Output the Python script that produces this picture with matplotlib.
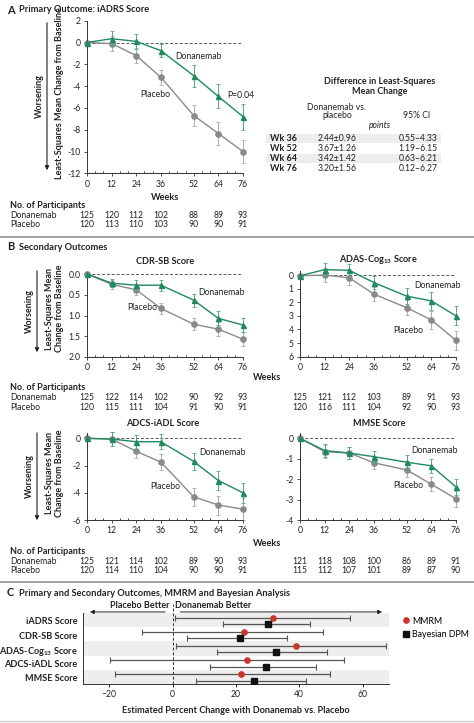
import matplotlib
matplotlib.use("Agg")
import matplotlib.pyplot as plt
from matplotlib.lines import Line2D
from matplotlib.transforms import blended_transform_factory
from matplotlib.ticker import MultipleLocator, FormatStrFormatter

plt.rcParams['font.family'] = ['Lato', 'DejaVu Sans']
plt.rcParams['mathtext.fontset'] = 'custom'
plt.rcParams['mathtext.rm'] = 'Lato'
plt.rcParams['mathtext.bf'] = 'Lato:bold'
plt.rcParams['mathtext.default'] = 'regular'

# ---- data ----
weeks = [0, 12, 24, 36, 52, 64, 76]

iadrs_don = [0, 0.35, 0.1, -0.75, -3.05, -4.95, -6.8]
iadrs_don_err = [0, 0.7, 0.7, 0.6, 1.0, 1.1, 1.2]
iadrs_pla = [0, -0.1, -1.2, -3.2, -6.7, -8.35, -10.0]
iadrs_pla_err = [0, 0.7, 0.7, 0.7, 1.0, 1.05, 1.1]

cdr_don = [0, 0.22, 0.27, 0.27, 0.63, 1.07, 1.23]
cdr_don_err = [0, 0.1, 0.12, 0.13, 0.16, 0.17, 0.16]
cdr_pla = [0, 0.25, 0.38, 0.83, 1.21, 1.33, 1.57]
cdr_pla_err = [0, 0.1, 0.12, 0.14, 0.15, 0.17, 0.17]

adas_don = [0.05, -0.4, -0.35, 0.55, 1.55, 1.9, 3.0]
adas_don_err = [0, 0.5, 0.5, 0.5, 0.6, 0.65, 0.7]
adas_pla = [0.05, 0.0, 0.2, 1.4, 2.4, 3.3, 4.8]
adas_pla_err = [0, 0.5, 0.5, 0.5, 0.55, 0.65, 0.7]

adcs_don = [0, -0.05, -0.25, -0.25, -1.7, -3.1, -4.0]
adcs_don_err = [0, 0.5, 0.5, 0.55, 0.65, 0.7, 0.75]
adcs_pla = [0, -0.05, -0.95, -1.75, -4.3, -4.9, -5.2]
adcs_pla_err = [0, 0.5, 0.5, 0.6, 0.65, 0.7, 0.8]

mmse_don = [0, -0.6, -0.72, -0.9, -1.17, -1.35, -2.38]
mmse_don_err = [0, 0.3, 0.3, 0.3, 0.35, 0.35, 0.4]
mmse_pla = [0, -0.65, -0.72, -1.2, -1.55, -2.25, -2.96]
mmse_pla_err = [0, 0.3, 0.3, 0.3, 0.35, 0.35, 0.4]

n_iadrs_don = [125, 120, 112, 102, 88, 89, 93]
n_iadrs_pla = [120, 113, 110, 103, 90, 90, 91]
n_cdr_don = [125, 122, 114, 102, 90, 92, 93]
n_cdr_pla = [120, 115, 111, 104, 91, 90, 91]
n_adas_don = [125, 121, 112, 103, 89, 91, 93]
n_adas_pla = [120, 116, 111, 104, 92, 90, 93]
n_adcs_don = [125, 121, 114, 102, 89, 90, 93]
n_adcs_pla = [120, 114, 110, 104, 90, 90, 91]
n_mmse_don = [121, 118, 108, 100, 86, 89, 91]
n_mmse_pla = [115, 112, 107, 101, 89, 87, 90]

tbl_weeks = ["Wk 36", "Wk 52", "Wk 64", "Wk 76"]
tbl_diff = ["2.44\u00b10.96", "3.67\u00b11.26", "3.42\u00b11.42", "3.20\u00b11.56"]
tbl_ci = ["0.55\u20134.33", "1.19\u20136.15", "0.63\u20136.21", "0.12\u20136.27"]

outcomes = ["iADRS Score", "CDR-SB Score", "ADAS-Cog$_{13}$ Score", "ADCS-iADL Score", "MMSE Score"]
mmrm_est = [31.8, 22.6, 38.9, 23.6, 21.5]
mmrm_lo = [0.7, -9.7, 1.0, -19.8, -18.2]
mmrm_hi = [56.0, 47.6, 67.4, 54.2, 49.7]
bayes_est = [30.2, 21.3, 32.5, 29.5, 25.8]
bayes_lo = [16.0, 4.6, 14.1, 11.8, 7.4]
bayes_hi = [43.4, 36.2, 48.6, 45.3, 42.1]

# ---- style ----
W, H = 474, 723
GREEN = "#1f8a5b"
GREEN_ERR = "#52a880"
GRAY = "#8a8a8a"
GRAY_ERR = "#ababab"
RED = "#c9372c"
TXT = "#222222"
FS = 6.2

fig = plt.figure(figsize=(W / 100, H / 100), dpi=100)
ov = fig.add_axes([0, 0, 1, 1])
ov.set_xlim(0, W)
ov.set_ylim(H, 0)
ov.axis('off')


def px_axes(l, t, r, b):
    return fig.add_axes([l / W, 1 - b / H, (r - l) / W, (b - t) / H])


def series(ax, y, err, color, ecolor, marker, ms, z):
    ax.errorbar(weeks[1:], y[1:], yerr=err[1:], fmt='none', ecolor=ecolor, elinewidth=0.7,
                capsize=1.3, capthick=0.6, zorder=z, clip_on=False)
    ax.plot(weeks, y, color=color, lw=1.0, marker=marker, ms=ms, zorder=z + 0.5, clip_on=False)


def line_panel(ax, don, don_err, pla, pla_err, ylim, step, fmt):
    ax.axhline(0, color="#555555", lw=0.7, ls=(0, (3, 2)), zorder=1)
    series(ax, pla, pla_err, GRAY, GRAY_ERR, 'o', 3.8, 2)
    series(ax, don, don_err, GREEN, GREEN_ERR, '^', 3.6, 3)
    ax.set_xlim(0, 76)
    ax.set_ylim(*ylim)
    ax.set_xticks(weeks)
    ax.xaxis.set_minor_locator(MultipleLocator(4))
    ax.yaxis.set_major_locator(MultipleLocator(step))
    ax.yaxis.set_major_formatter(FormatStrFormatter(fmt))
    for s in ['top', 'right']:
        ax.spines[s].set_visible(False)
    for s in ['left', 'bottom']:
        ax.spines[s].set_linewidth(0.7)
        ax.spines[s].set_color("#333333")
    ax.tick_params(labelsize=FS, length=2.5, width=0.6, pad=2, colors="#333333", labelcolor=TXT)
    ax.tick_params(which='minor', length=1.8, width=0.5, direction='in')
    ax.set_facecolor('none')


def worsening(x_arrow, x_text, y0, y1, label_x, label):
    ov.annotate('', xy=(x_arrow, y1), xytext=(x_arrow, y0),
                arrowprops=dict(arrowstyle='-|>', color=TXT, lw=0.8, mutation_scale=6))
    ov.text(x_text, (y0 + y1) / 2, "Worsening", rotation=90, ha='center', va='center',
            fontsize=FS + 0.3, fontweight='bold', color=TXT)
    ov.text(label_x, (y0 + y1) / 2 - 3, label, rotation=90, ha='center', va='center',
            fontsize=FS + 0.3, fontweight='bold', color=TXT, linespacing=1.1)


def counts(ax, ypx, don, pla):
    tr = blended_transform_factory(ax.transData, ov.transData)
    for w, d, p in zip(weeks, don, pla):
        ax.text(w, ypx, str(d), transform=tr, ha='center', va='center', fontsize=FS, color=TXT)
        ax.text(w, ypx + 9.5, str(p), transform=tr, ha='center', va='center', fontsize=FS, color=TXT)


def section_title(y, letter, text):
    ov.text(7, y, letter, fontsize=8, fontweight='bold', va='center', color=TXT)
    ov.text(19, y, text, fontsize=FS + 0.5, fontweight='bold', va='center', color=TXT)


# ---- panel A ----
section_title(10, "A", "Primary Outcome: iADRS Score")
axA = px_axes(87, 20.7, 243, 173.3)
line_panel(axA, iadrs_don, iadrs_don_err, iadrs_pla, iadrs_pla_err, (-12, 2), 2, '%d')
axA.text(43, -1.3, "Donanemab", fontsize=FS, color=TXT, va='center')
axA.text(26, -4.8, "Placebo", fontsize=FS, color=TXT, va='center')
axA.text(68.3, -4.85, "P=0.04", fontsize=FS, color=TXT, va='center')
worsening(47, 39, 20, 173, 60, "Least-Squares Mean Change from Baseline")
ov.text(165, 197, "Weeks", ha='center', va='center', fontsize=FS + 0.4, fontweight='bold', color=TXT)
ov.text(10, 205, "No. of Participants", va='center', fontsize=FS + 0.3, fontweight='bold', color=TXT)
ov.text(10, 215, "Donanemab", va='center', fontsize=FS, color=TXT)
ov.text(10, 224.5, "Placebo", va='center', fontsize=FS, color=TXT)
counts(axA, 215, n_iadrs_don, n_iadrs_pla)

# difference table
ov.text(380, 82, "Difference in Least-Squares", ha='center', va='center', fontsize=FS + 0.3,
        fontweight='bold', color=TXT)
ov.text(380, 92, "Mean Change", ha='center', va='center', fontsize=FS + 0.3, fontweight='bold', color=TXT)
ov.text(337, 107, "Donanemab vs.", ha='center', va='center', fontsize=FS, color=TXT)
ov.text(337, 116, "placebo", ha='center', va='center', fontsize=FS, color=TXT)
ov.text(417, 116, "95% CI", ha='center', va='center', fontsize=FS, color=TXT)
ov.text(380, 125, "points", ha='center', va='center', fontsize=FS, style='italic', color=TXT)
for i, (wk, d, c) in enumerate(zip(tbl_weeks, tbl_diff, tbl_ci)):
    y = 138.3 + 10 * i
    if i % 2 == 0:
        ov.add_patch(plt.Rectangle((266, y - 4.6), 175, 9.3, color="#ededed", lw=0, zorder=0))
    ov.text(270, y, wk, va='center', fontsize=FS + 0.3, fontweight='bold', color=TXT)
    ov.text(337, y, d, ha='center', va='center', fontsize=FS, color=TXT)
    ov.text(418, y, c, ha='center', va='center', fontsize=FS, color=TXT)

ov.plot([0, W], [237, 237], color="#9a9a9a", lw=1.3)

# ---- panel B ----
section_title(247, "B", "Secondary Outcomes")
B_LABEL = "Least-Squares Mean\nChange from Baseline"

axB1 = px_axes(87, 274, 243, 357)
line_panel(axB1, cdr_don, cdr_don_err, cdr_pla, cdr_pla_err, (2.0, 0.0), 0.5, '%.1f')
axB1.text(54.2, 0.45, "Donanemab", fontsize=FS, color=TXT, va='center')
axB1.text(19.6, 0.81, "Placebo", fontsize=FS, color=TXT, va='center')
ov.text(165, 262, "CDR-SB Score", ha='center', va='center', fontsize=FS + 0.4, fontweight='bold', color=TXT)

axB2 = px_axes(300, 271, 456, 356.7)
line_panel(axB2, adas_don, adas_don_err, adas_pla, adas_pla_err, (6, -0.3), 1, '%d')
axB2.set_yticks([0, 1, 2, 3, 4, 5, 6])
axB2.text(55.7, 0.73, "Donanemab", fontsize=FS, color=TXT, va='center')
axB2.text(45.6, 4.1, "Placebo", fontsize=FS, color=TXT, va='center')
ov.text(378, 260, r"ADAS-Cog$_\mathbf{13}$ Score", ha='center', va='center', fontsize=FS + 0.4,
        fontweight='bold', color=TXT)

worsening(37, 29, 268, 355, 54.5, B_LABEL)
ov.text(267, 378, "Weeks", ha='center', va='center', fontsize=FS + 0.4, fontweight='bold', color=TXT)
ov.text(10, 387, "No. of Participants", va='center', fontsize=FS + 0.3, fontweight='bold', color=TXT)
ov.text(10, 398, "Donanemab", va='center', fontsize=FS, color=TXT)
ov.text(10, 407.5, "Placebo", va='center', fontsize=FS, color=TXT)
counts(axB1, 398, n_cdr_don, n_cdr_pla)
counts(axB2, 398, n_adas_don, n_adas_pla)

axB3 = px_axes(87, 432.9, 243, 520)
line_panel(axB3, adcs_don, adcs_don_err, adcs_pla, adcs_pla_err, (-6, 0.4), 2, '%d')
axB3.set_yticks([0, -2, -4, -6])
axB3.text(54.7, -1.06, "Donanemab", fontsize=FS, color=TXT, va='center')
axB3.text(30.7, -3.55, "Placebo", fontsize=FS, color=TXT, va='center')
ov.text(163, 424, "ADCS-iADL Score", ha='center', va='center', fontsize=FS + 0.4, fontweight='bold', color=TXT)

axB4 = px_axes(300, 433.2, 456, 520)
line_panel(axB4, mmse_don, mmse_don_err, mmse_pla, mmse_pla_err, (-4, 0.25), 1, '%d')
axB4.set_yticks([0, -1, -2, -3, -4])
axB4.text(54.1, -0.62, "Donanemab", fontsize=FS, color=TXT, va='center')
axB4.text(45.6, -2.33, "Placebo", fontsize=FS, color=TXT, va='center')
ov.text(379, 424, "MMSE Score", ha='center', va='center', fontsize=FS + 0.4, fontweight='bold', color=TXT)

worsening(37, 29, 430, 523, 54.5, B_LABEL)
ov.text(267, 543, "Weeks", ha='center', va='center', fontsize=FS + 0.4, fontweight='bold', color=TXT)
ov.text(10, 551, "No. of Participants", va='center', fontsize=FS + 0.3, fontweight='bold', color=TXT)
ov.text(10, 561, "Donanemab", va='center', fontsize=FS, color=TXT)
ov.text(10, 570.5, "Placebo", va='center', fontsize=FS, color=TXT)
counts(axB3, 561, n_adcs_don, n_adcs_pla)
counts(axB4, 561, n_mmse_don, n_mmse_pla)

ov.plot([0, W], [582, 582], color="#9a9a9a", lw=1.3)

# ---- panel C ----
section_title(593, "C", "Primary and Secondary Outcomes, MMRM and Bayesian Analysis")
axC = px_axes(83, 613, 389, 684)
n = len(outcomes)
for i in range(0, n, 2):
    axC.axhspan(i, i + 1, color="#eeeeee", lw=0, zorder=0)
for i in range(n):
    yu, yl = i + 0.33, i + 0.77
    axC.errorbar(mmrm_est[i], yu, xerr=[[mmrm_est[i] - mmrm_lo[i]], [mmrm_hi[i] - mmrm_est[i]]],
                 fmt='o', color=RED, ms=3.8, ecolor="#555555", elinewidth=0.9, capsize=2,
                 capthick=0.8, zorder=3)
    axC.errorbar(bayes_est[i], yl, xerr=[[bayes_est[i] - bayes_lo[i]], [bayes_hi[i] - bayes_est[i]]],
                 fmt='s', color="#111111", ms=3.8, ecolor="#555555", elinewidth=0.9, capsize=2,
                 capthick=0.8, zorder=3)
axC.set_xlim(-28.3, 68.3)
axC.set_ylim(n, 0)
axC.set_xticks([-20, 0, 20, 40, 60])
axC.set_yticks([i + 0.55 for i in range(n)])
axC.set_yticklabels(outcomes, fontweight='bold', fontsize=FS + 0.4, color=TXT)
axC.tick_params(axis='y', length=0, pad=4)
axC.tick_params(axis='x', labelsize=FS, length=2.5, width=0.6, pad=2, labelcolor=TXT)
for s in ['top', 'right']:
    axC.spines[s].set_visible(False)
for s in ['left', 'bottom']:
    axC.spines[s].set_linewidth(0.7)
    axC.spines[s].set_color("#333333")
trC = blended_transform_factory(axC.transData, axC.transAxes)
axC.plot([0, 0], [0, 1.12], transform=trC, color="#333333", lw=0.7, ls=(0, (3, 2)), clip_on=False, zorder=4)
axC.annotate('', xy=(-27, 1.015), xytext=(-1.5, 1.015), xycoords=trC, textcoords=trC,
             arrowprops=dict(arrowstyle='-|>', color=TXT, lw=0.7, mutation_scale=6))
axC.annotate('', xy=(67, 1.015), xytext=(1.5, 1.015), xycoords=trC, textcoords=trC,
             arrowprops=dict(arrowstyle='-|>', color=TXT, lw=0.7, mutation_scale=6))
axC.text(-10.3, 1.1, "Placebo Better", transform=trC, ha='center', va='center',
         fontsize=FS + 0.3, fontweight='bold', color=TXT)
axC.text(12.8, 1.1, "Donanemab Better", transform=trC, ha='center', va='center',
         fontsize=FS + 0.3, fontweight='bold', color=TXT)
axC.set_xlabel("Estimated Percent Change with Donanemab vs. Placebo", fontsize=FS + 0.4,
               fontweight='bold', color=TXT, labelpad=5)
handles = [Line2D([], [], ls='none', marker='o', color=RED, ms=3.8),
           Line2D([], [], ls='none', marker='s', color="#111111", ms=3.8)]
axC.legend(handles, ["MMRM", "Bayesian DPM"], loc='upper left', bbox_to_anchor=(1.03, 1.0),
           frameon=False, fontsize=FS + 0.2, handletextpad=0.2, handlelength=1.0,
           labelspacing=0.5, borderaxespad=0)

ov.plot([0, W], [721, 721], color="#cccccc", lw=1.0)

fig.savefig("out.png", dpi=100)
